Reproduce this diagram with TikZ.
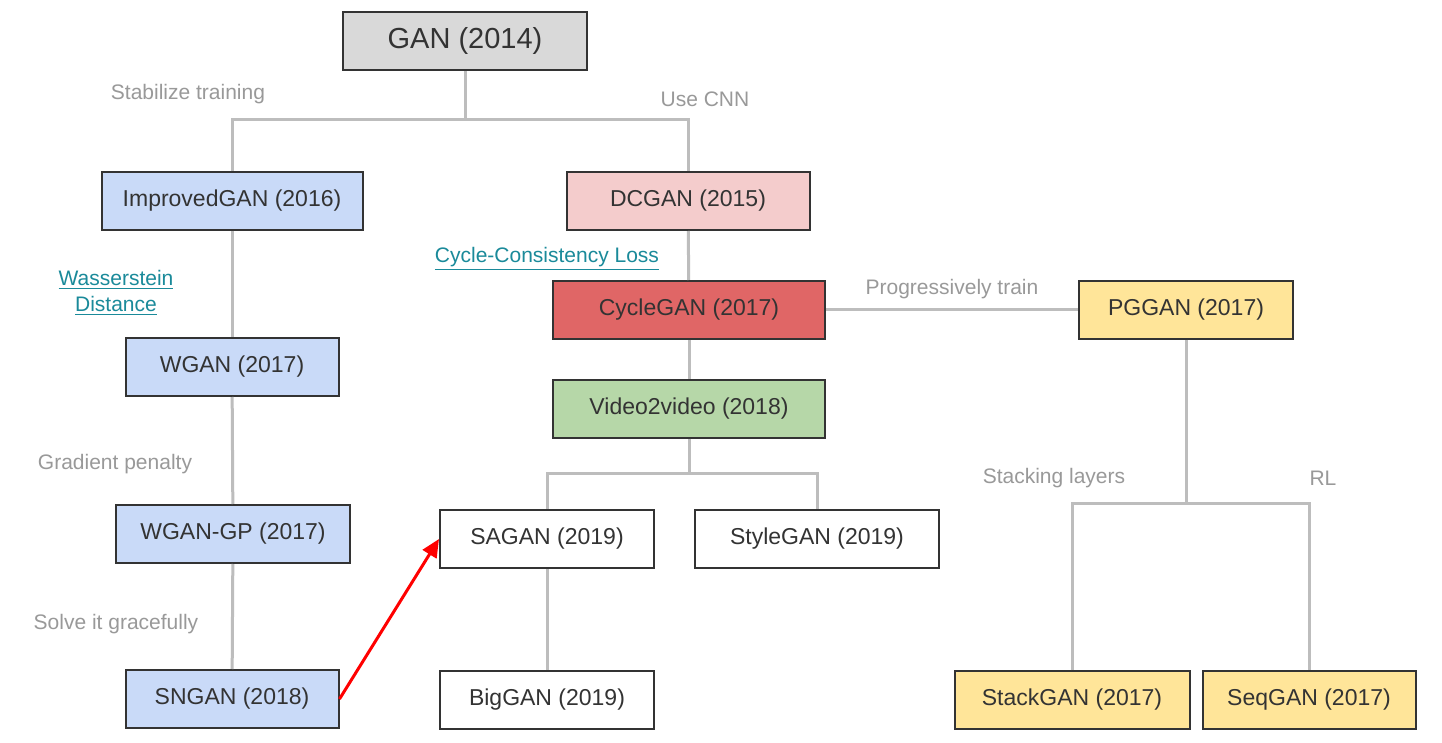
\documentclass[tikz,border=0pt]{standalone}
\usepackage{fontspec}
\setmainfont{Liberation Sans}
\usetikzlibrary{arrows.meta}
\definecolor{txt}{HTML}{333333}
\definecolor{ln}{HTML}{BDBDBD}
\definecolor{lbl}{HTML}{999999}
\definecolor{teal}{HTML}{1A8A9A}
\definecolor{cblue}{HTML}{C9DAF8}
\definecolor{cpink}{HTML}{F4CCCC}
\definecolor{cred}{HTML}{E06666}
\definecolor{cyel}{HTML}{FFE599}
\definecolor{cgreen}{HTML}{B6D7A8}
\definecolor{cgray}{HTML}{D9D9D9}
\begin{document}
\begin{tikzpicture}[x=0.5pt,y=-0.5pt,
 box/.style={draw=txt,line width=1pt,text=txt,font=\fontsize{11.5}{13}\selectfont,inner sep=0pt,minimum height=29pt},
 lk/.style={ln,line width=1.5pt},
 lab/.style={text=lbl,font=\fontsize{10.5}{12}\selectfont},
 tl/.style={text=teal,font=\fontsize{10.5}{13}\selectfont,align=center}]
\useasboundingbox[fill=white] (0,0) rectangle (1442,743);
\node[box,fill=cgray,minimum width=122pt,font=\fontsize{14.5}{16}\selectfont] (gan) at (465,41) {GAN (2014)};
\node[box,fill=cblue,minimum width=130.5pt] (imp) at (232,201) {ImprovedGAN (2016)};
\node[box,fill=cpink,minimum width=121.5pt] (dc) at (688,201) {DCGAN (2015)};
\node[box,fill=cred,minimum width=136pt] (cyc) at (689,310) {CycleGAN (2017)};
\node[box,fill=cyel,minimum width=107pt] (pg) at (1186,310) {PGGAN (2017)};
\node[box,fill=cblue,minimum width=106.5pt] (wg) at (232,367) {WGAN (2017)};
\node[box,fill=cgreen,minimum width=136pt] (v2v) at (689,409) {Video2video (2018)};
\node[box,fill=cblue,minimum width=117pt] (wgp) at (233,534) {WGAN-GP (2017)};
\node[box,fill=white,minimum width=107pt] (sa) at (547,539) {SAGAN (2019)};
\node[box,fill=white,minimum width=122pt] (sty) at (817,539) {StyleGAN (2019)};
\node[box,fill=cblue,minimum width=106.5pt] (sn) at (232,699) {SNGAN (2018)};
\node[box,fill=white,minimum width=107pt] (big) at (547,700) {BigGAN (2019)};
\node[box,fill=cyel,minimum width=117.5pt] (stk) at (1072,700) {StackGAN (2017)};
\node[box,fill=cyel,minimum width=106.5pt] (seq) at (1309,700) {SeqGAN (2017)};
\coordinate (j1) at (465,120);
\coordinate (j2) at (689,474);
\coordinate (j3) at (1186,504);
\begin{scope}[on background layer/.try]
\draw[lk] (gan.south) -- (j1);
\draw[lk] (imp.north) |- (j1) -| (dc.north);
\draw[lk] (dc) -- (cyc);
\draw[lk] (imp) -- (wg);
\draw[lk] (wg) -- (wgp);
\draw[lk] (wgp) -- (sn);
\draw[lk] (cyc) -- (pg);
\draw[lk] (cyc) -- (v2v);
\draw[lk] (v2v.south) -- (j2);
\draw[lk] (sa.north) |- (j2) -| (sty.north);
\draw[lk] (sa) -- (big);
\draw[lk] (pg.south) -- (j3);
\draw[lk] (stk.north) |- (j3) -| (seq.north);
\end{scope}
\draw[red,line width=1.5pt,-{Triangle[length=9pt,width=8pt]}] (sn.east) -- (sa.west);
\node[lab] (l1) at (188,94) {Stabilize training};
\node[lab] (l2) at (705,99) {Use CNN};
\node[tl] (l3) at (116,293) {\underline{Wasserstein}\\\underline{Distance}};
\node[tl] (l4) at (547,259) {\underline{Cycle-Consistency Loss}};
\node[lab] (l5) at (952,289) {Progressively train};
\node[lab] (l6) at (115,464) {Gradient penalty};
\node[lab] (l7) at (116,624) {Solve it gracefully};
\node[lab] (l8) at (1054,478) {Stacking layers};
\node[lab] (l9) at (1323,478) {RL};
\end{tikzpicture}
\end{document}
